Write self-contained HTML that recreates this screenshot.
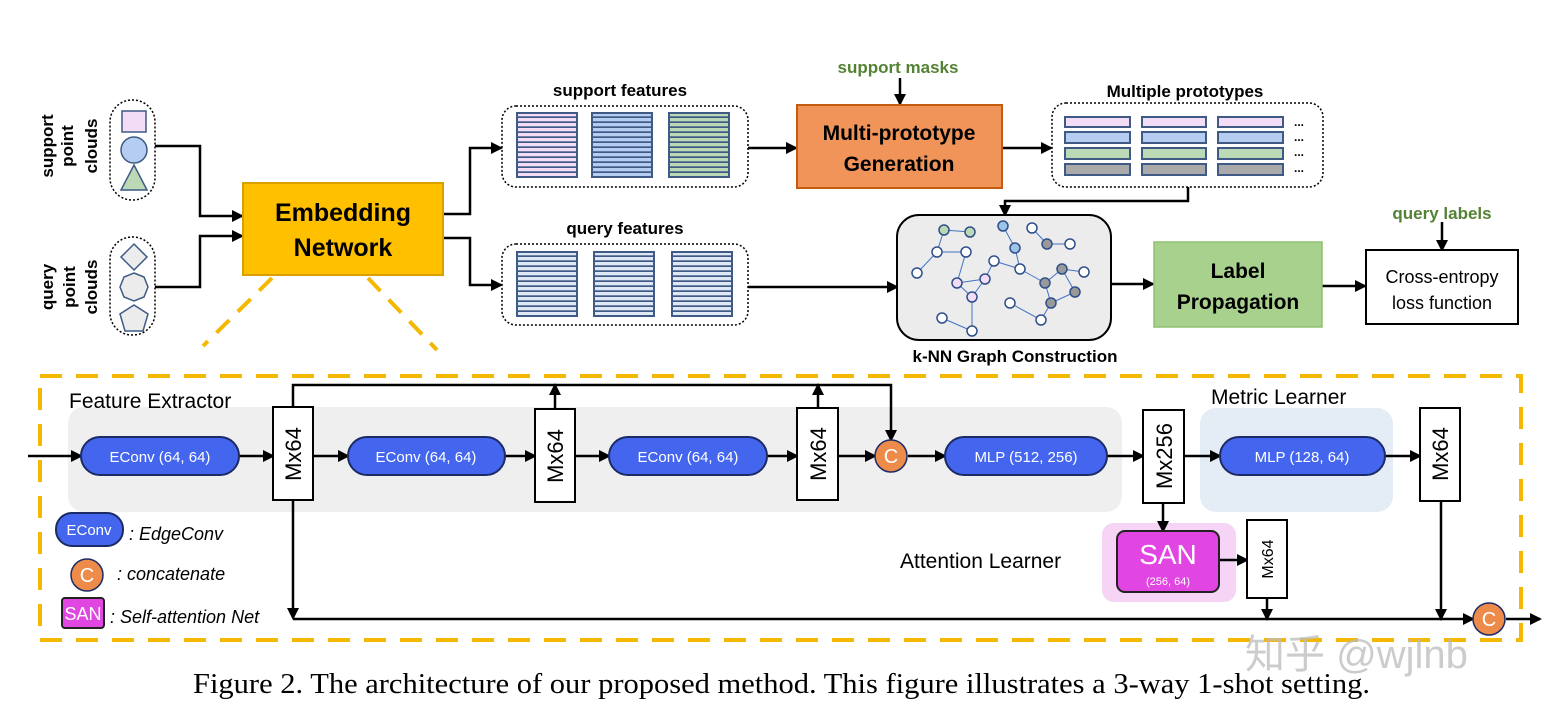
<!DOCTYPE html>
<html><head><meta charset="utf-8"><style>
html,body{margin:0;padding:0;background:#fff;}
svg{display:block;}
text{font-family:"Liberation Sans",sans-serif;}
</style></head><body>
<svg width="1561" height="724" viewBox="0 0 1561 724" xmlns="http://www.w3.org/2000/svg">
<defs>
<marker id="ar" markerWidth="12" markerHeight="12" refX="10" refY="6" orient="auto" markerUnits="userSpaceOnUse"><path d="M0,0 L12,6 L0,12 z" fill="#000"/></marker>
<pattern id="pk" width="10" height="5" patternUnits="userSpaceOnUse" y="113"><rect width="10" height="5" fill="#f3dcf5"/><rect y="3.3" width="10" height="1.8" fill="#3f5a85"/></pattern>
<pattern id="bl" width="10" height="5" patternUnits="userSpaceOnUse" y="113"><rect width="10" height="5" fill="#b5cdf0"/><rect y="3.3" width="10" height="1.8" fill="#3f5a85"/></pattern>
<pattern id="gr" width="10" height="5" patternUnits="userSpaceOnUse" y="113"><rect width="10" height="5" fill="#bcd9b5"/><rect y="3.3" width="10" height="1.8" fill="#3f5a85"/></pattern>
<pattern id="qu" width="10" height="5" patternUnits="userSpaceOnUse" y="252"><rect width="10" height="5" fill="#dfe8f5"/><rect y="3.3" width="10" height="1.8" fill="#3f5a85"/></pattern>
</defs>
<g stroke="#000" stroke-width="2.5" fill="none">
<polyline points="155,146 200,146 200,216 242,216" marker-end="url(#ar)"/>
<polyline points="155,287 200,287 200,236 242,236" marker-end="url(#ar)"/>
<polyline points="443,214 470,214 470,148 501,148" marker-end="url(#ar)"/>
<polyline points="443,238 470,238 470,285 501,285" marker-end="url(#ar)"/>
<line x1="748" y1="148" x2="796" y2="148" marker-end="url(#ar)"/>
<line x1="900" y1="78" x2="900" y2="104" marker-end="url(#ar)"/>
<line x1="1002" y1="148" x2="1051" y2="148" marker-end="url(#ar)"/>
<polyline points="1188,187 1188,201 1005,201 1005,215" marker-end="url(#ar)"/>
<line x1="748" y1="287" x2="897" y2="287" marker-end="url(#ar)"/>
<line x1="1111" y1="284" x2="1153" y2="284" marker-end="url(#ar)"/>
<line x1="1322" y1="286" x2="1365" y2="286" marker-end="url(#ar)"/>
<line x1="1442" y1="222" x2="1442" y2="250" marker-end="url(#ar)"/>
</g>
<rect x="110" y="100" width="45" height="100" rx="22" fill="none" stroke="#000" stroke-width="1.5" stroke-dasharray="2,2"/>
<rect x="122" y="111" width="24" height="21" fill="#f3dcf5" stroke="#3f5a85" stroke-width="1.5"/>
<circle cx="134" cy="150" r="13" fill="#b5cdf0" stroke="#3f5a85" stroke-width="1.5"/>
<polygon points="134,165 147,190 121,190" fill="#bcd9b5" stroke="#3f5a85" stroke-width="1.5"/>
<rect x="110" y="237" width="45" height="98" rx="22" fill="none" stroke="#000" stroke-width="1.5" stroke-dasharray="2,2"/>
<polygon points="134,244 147,257 134,270 121,257" fill="#ececec" stroke="#3f5a85" stroke-width="1.5"/>
<polygon points="134,273 144,277 148,287 144,297 134,301 124,297 120,287 124,277" fill="#ececec" stroke="#3f5a85" stroke-width="1.5"/>
<polygon points="134,305 148,314 143,331 125,331 120,314" fill="#ececec" stroke="#3f5a85" stroke-width="1.5"/>
<g font-weight="bold" font-size="17" fill="#000" text-anchor="middle">
<text transform="translate(53,146) rotate(-90)">support</text>
<text transform="translate(73,146) rotate(-90)">point</text>
<text transform="translate(97,146) rotate(-90)">clouds</text>
<text transform="translate(53,287) rotate(-90)">query</text>
<text transform="translate(75,287) rotate(-90)">point</text>
<text transform="translate(97,287) rotate(-90)">clouds</text>
</g>
<rect x="243" y="183" width="200" height="92" fill="#ffc000" stroke="#d9a000" stroke-width="2"/>
<text x="343" y="221" font-size="25" font-weight="bold" text-anchor="middle">Embedding</text>
<text x="343" y="256" font-size="25" font-weight="bold" text-anchor="middle">Network</text>
<line x1="272" y1="278" x2="203" y2="346" stroke="#f5b800" stroke-width="4" stroke-dasharray="18,12"/>
<line x1="368" y1="278" x2="437" y2="350" stroke="#f5b800" stroke-width="4" stroke-dasharray="18,12"/>
<text x="620" y="96" font-size="17" font-weight="bold" text-anchor="middle">support features</text>
<rect x="502" y="106" width="246" height="81" rx="14" fill="none" stroke="#000" stroke-width="1.5" stroke-dasharray="2,2"/>
<rect x="517" y="113" width="60" height="64" fill="url(#pk)" stroke="#3f5a85" stroke-width="2"/>
<rect x="592" y="113" width="60" height="64" fill="url(#bl)" stroke="#3f5a85" stroke-width="2"/>
<rect x="669" y="113" width="60" height="64" fill="url(#gr)" stroke="#3f5a85" stroke-width="2"/>
<text x="625" y="234" font-size="17" font-weight="bold" text-anchor="middle">query features</text>
<rect x="502" y="244" width="246" height="81" rx="14" fill="none" stroke="#000" stroke-width="1.5" stroke-dasharray="2,2"/>
<rect x="517" y="252" width="60" height="64" fill="url(#qu)" stroke="#3f5a85" stroke-width="2"/>
<rect x="594" y="252" width="60" height="64" fill="url(#qu)" stroke="#3f5a85" stroke-width="2"/>
<rect x="672" y="252" width="60" height="64" fill="url(#qu)" stroke="#3f5a85" stroke-width="2"/>
<text x="898" y="73" font-size="17" font-weight="bold" fill="#548235" text-anchor="middle">support masks</text>
<rect x="797" y="105" width="205" height="83" fill="#f0945a" stroke="#c55a11" stroke-width="2"/>
<text x="899" y="140" font-size="21" font-weight="bold" text-anchor="middle">Multi-prototype</text>
<text x="899" y="171" font-size="21" font-weight="bold" text-anchor="middle">Generation</text>
<text x="1185" y="97" font-size="17" font-weight="bold" text-anchor="middle">Multiple prototypes</text>
<rect x="1052" y="103" width="271" height="84" rx="14" fill="none" stroke="#000" stroke-width="1.5" stroke-dasharray="2,2"/>
<g stroke="#3f5a85" stroke-width="2">
<rect x="1065" y="117" width="65" height="10" fill="#f3dcf5"/><rect x="1142" y="117" width="64" height="10" fill="#f3dcf5"/><rect x="1218" y="117" width="65" height="10" fill="#f3dcf5"/>
<rect x="1065" y="132" width="65" height="11" fill="#b5cdf0"/><rect x="1142" y="132" width="64" height="11" fill="#b5cdf0"/><rect x="1218" y="132" width="65" height="11" fill="#b5cdf0"/>
<rect x="1065" y="148" width="65" height="11" fill="#bcd9b5"/><rect x="1142" y="148" width="64" height="11" fill="#bcd9b5"/><rect x="1218" y="148" width="65" height="11" fill="#bcd9b5"/>
<rect x="1065" y="164" width="65" height="11" fill="#aaaaaa"/><rect x="1142" y="164" width="64" height="11" fill="#aaaaaa"/><rect x="1218" y="164" width="65" height="11" fill="#aaaaaa"/>
</g>
<g font-size="12" font-weight="bold"><text x="1294" y="126">...</text><text x="1294" y="141">...</text><text x="1294" y="156">...</text><text x="1294" y="172">...</text></g>
<rect x="897" y="215" width="214" height="125" rx="22" fill="#ececec" stroke="#000" stroke-width="2"/>
<g stroke="#4472c4" stroke-width="1">
<line x1="944" y1="230" x2="970" y2="232"/><line x1="944" y1="230" x2="937" y2="252"/><line x1="937" y1="252" x2="966" y2="252"/><line x1="937" y1="252" x2="917" y2="273"/>
<line x1="966" y1="252" x2="957" y2="283"/><line x1="957" y1="283" x2="985" y2="279"/><line x1="985" y1="279" x2="994" y2="261"/><line x1="957" y1="283" x2="972" y2="297"/>
<line x1="985" y1="279" x2="972" y2="297"/><line x1="972" y1="297" x2="972" y2="331"/><line x1="942" y1="318" x2="972" y2="331"/>
<line x1="1003" y1="226" x2="1015" y2="248"/><line x1="1015" y1="248" x2="1020" y2="269"/><line x1="994" y1="261" x2="1020" y2="269"/><line x1="1020" y1="269" x2="1045" y2="283"/>
<line x1="1032" y1="228" x2="1047" y2="244"/><line x1="1047" y1="244" x2="1070" y2="244"/><line x1="1045" y1="283" x2="1062" y2="269"/><line x1="1062" y1="269" x2="1084" y2="272"/>
<line x1="1062" y1="269" x2="1075" y2="292"/><line x1="1045" y1="283" x2="1051" y2="303"/><line x1="1051" y1="303" x2="1075" y2="292"/><line x1="1010" y1="303" x2="1041" y2="320"/><line x1="1051" y1="303" x2="1041" y2="320"/>
</g>
<g stroke="#2f4f8a" stroke-width="1.5">
<circle cx="944" cy="230" r="5" fill="#bcd9b5"/><circle cx="970" cy="232" r="5" fill="#bcd9b5"/><circle cx="1003" cy="226" r="5" fill="#9dc3e6"/><circle cx="1032" cy="228" r="5" fill="#fff"/>
<circle cx="1047" cy="244" r="5" fill="#999"/><circle cx="1070" cy="244" r="5" fill="#fff"/><circle cx="1015" cy="248" r="5" fill="#9dc3e6"/><circle cx="937" cy="252" r="5" fill="#fff"/>
<circle cx="966" cy="252" r="5" fill="#fff"/><circle cx="994" cy="261" r="5" fill="#fff"/><circle cx="1020" cy="269" r="5" fill="#fff"/><circle cx="1062" cy="269" r="5" fill="#999"/>
<circle cx="1084" cy="272" r="5" fill="#fff"/><circle cx="917" cy="273" r="5" fill="#fff"/><circle cx="957" cy="283" r="5" fill="#f3dcf5"/><circle cx="985" cy="279" r="5" fill="#f3dcf5"/>
<circle cx="1045" cy="283" r="5" fill="#999"/><circle cx="972" cy="297" r="5" fill="#f3dcf5"/><circle cx="1075" cy="292" r="5" fill="#999"/><circle cx="1010" cy="303" r="5" fill="#fff"/>
<circle cx="1051" cy="303" r="5" fill="#999"/><circle cx="942" cy="318" r="5" fill="#fff"/><circle cx="1041" cy="320" r="5" fill="#fff"/><circle cx="972" cy="331" r="5" fill="#fff"/>
</g>
<text x="1015" y="362" font-size="17" font-weight="bold" text-anchor="middle">k-NN Graph Construction</text>
<rect x="1154" y="242" width="168" height="85" fill="#a9d18e" stroke="#8fbf70" stroke-width="1.5"/>
<text x="1238" y="278" font-size="21" font-weight="bold" text-anchor="middle">Label</text>
<text x="1238" y="309" font-size="21" font-weight="bold" text-anchor="middle">Propagation</text>
<text x="1442" y="219" font-size="17" font-weight="bold" fill="#548235" text-anchor="middle">query labels</text>
<rect x="1366" y="250" width="152" height="74" fill="#fff" stroke="#000" stroke-width="2"/>
<text x="1442" y="283" font-size="18" text-anchor="middle">Cross-entropy</text>
<text x="1442" y="309" font-size="18" text-anchor="middle">loss function</text>
<rect x="40" y="376" width="1481" height="264" fill="none" stroke="#f5b800" stroke-width="4" stroke-dasharray="22,14"/>
<rect x="68" y="407" width="1054" height="105" rx="16" fill="#efefef"/>
<rect x="1200" y="408" width="193" height="104" rx="16" fill="#e4ecf6"/>
<rect x="1102" y="523" width="134" height="79" rx="12" fill="#f5d4f5"/>
<text x="69" y="408" font-size="21">Feature Extractor</text>
<text x="1211" y="404" font-size="21">Metric Learner</text>
<text x="900" y="568" font-size="21">Attention Learner</text>
<g stroke="#000" stroke-width="2.5" fill="none">
<line x1="28" y1="456" x2="81" y2="456" marker-end="url(#ar)"/>
<line x1="239" y1="456" x2="273" y2="456" marker-end="url(#ar)"/>
<line x1="313" y1="456" x2="348" y2="456" marker-end="url(#ar)"/>
<line x1="505" y1="456" x2="535" y2="456" marker-end="url(#ar)"/>
<line x1="575" y1="456" x2="609" y2="456" marker-end="url(#ar)"/>
<line x1="767" y1="456" x2="797" y2="456" marker-end="url(#ar)"/>
<line x1="839" y1="456" x2="875" y2="456" marker-end="url(#ar)"/>
<line x1="908" y1="456" x2="945" y2="456" marker-end="url(#ar)"/>
<line x1="1107" y1="456" x2="1143" y2="456" marker-end="url(#ar)"/>
<line x1="1185" y1="456" x2="1220" y2="456" marker-end="url(#ar)"/>
<line x1="1385" y1="456" x2="1420" y2="456" marker-end="url(#ar)"/>
<polyline points="293,407 293,385 891,385 891,440" marker-end="url(#ar)"/>
<line x1="555" y1="408" x2="555" y2="385" marker-end="url(#ar)"/>
<line x1="818" y1="408" x2="818" y2="385" marker-end="url(#ar)"/>
<line x1="293" y1="501" x2="293" y2="618" marker-end="url(#ar)"/>
<polyline points="293,619 1473,619" marker-end="url(#ar)"/>
<line x1="1163" y1="503" x2="1163" y2="531" marker-end="url(#ar)"/>
<line x1="1219" y1="560" x2="1247" y2="560" marker-end="url(#ar)"/>
<line x1="1267" y1="598" x2="1267" y2="619" marker-end="url(#ar)"/>
<line x1="1441" y1="501" x2="1441" y2="619" marker-end="url(#ar)"/>
<line x1="1506" y1="619" x2="1540" y2="619" marker-end="url(#ar)"/>
</g>
<g fill="#4466ee" stroke="#1c2a66" stroke-width="2">
<rect x="81" y="437" width="158" height="38" rx="19"/>
<rect x="348" y="437" width="157" height="38" rx="19"/>
<rect x="609" y="437" width="158" height="38" rx="19"/>
<rect x="945" y="437" width="162" height="38" rx="19"/>
<rect x="1220" y="437" width="165" height="38" rx="19"/>
<rect x="56" y="513" width="67" height="33" rx="16"/>
</g>
<g fill="#fff" font-size="15" text-anchor="middle">
<text x="160" y="462">EConv (64, 64)</text>
<text x="426" y="462">EConv (64, 64)</text>
<text x="688" y="462">EConv (64, 64)</text>
<text x="1026" y="462">MLP (512, 256)</text>
<text x="1302" y="462">MLP (128, 64)</text>
<text x="89" y="535">EConv</text>
</g>
<g fill="#fff" stroke="#000" stroke-width="2">
<rect x="273" y="407" width="40" height="93"/>
<rect x="535" y="409" width="40" height="93"/>
<rect x="797" y="408" width="41" height="92"/>
<rect x="1143" y="410" width="41" height="93"/>
<rect x="1420" y="408" width="40" height="93"/>
<rect x="1247" y="520" width="40" height="78"/>
</g>
<g font-size="22" text-anchor="middle">
<text transform="translate(301,454) rotate(-90)">Mx64</text>
<text transform="translate(563,456) rotate(-90)">Mx64</text>
<text transform="translate(826,454) rotate(-90)">Mx64</text>
<text transform="translate(1172,456) rotate(-90)">Mx256</text>
<text transform="translate(1448,454) rotate(-90)">Mx64</text>
<text transform="translate(1273,559) rotate(-90)" font-size="16">Mx64</text>
</g>
<g fill="#ed8b4b" stroke="#1c2a66" stroke-width="1.5">
<circle cx="891" cy="456" r="16"/><circle cx="1489" cy="619" r="16"/><circle cx="87" cy="575" r="16"/>
</g>
<g fill="#fff" font-size="20" text-anchor="middle">
<text x="891" y="463">C</text><text x="1489" y="626">C</text><text x="87" y="582">C</text>
</g>
<rect x="1117" y="531" width="102" height="61" rx="8" fill="#e246e2" stroke="#222" stroke-width="2"/>
<text x="1168" y="564" font-size="28" fill="#fff" text-anchor="middle">SAN</text>
<text x="1168" y="585" font-size="11" fill="#fff" text-anchor="middle">(256, 64)</text>
<rect x="62" y="598" width="42" height="30" rx="3" fill="#e246e2" stroke="#222" stroke-width="2"/>
<text x="83" y="620" font-size="18" fill="#fff" text-anchor="middle">SAN</text>
<g font-size="18" font-style="italic">
<text x="129" y="540">: EdgeConv</text>
<text x="117" y="580">: concatenate</text>
<text x="110" y="623">: Self-attention Net</text>
</g>
<text x="1245" y="668" style="font-family:'Liberation Sans','Noto Sans CJK SC',sans-serif" font-size="40" fill="#bbb" fill-opacity="0.75">知乎 @wjlnb</text>
<text x="193" y="693" style="font-family:'Liberation Serif',serif" font-size="28" textLength="1177" lengthAdjust="spacingAndGlyphs">Figure 2. The architecture of our proposed method. This figure illustrates a 3-way 1-shot setting.</text>
</svg>
</body></html>
